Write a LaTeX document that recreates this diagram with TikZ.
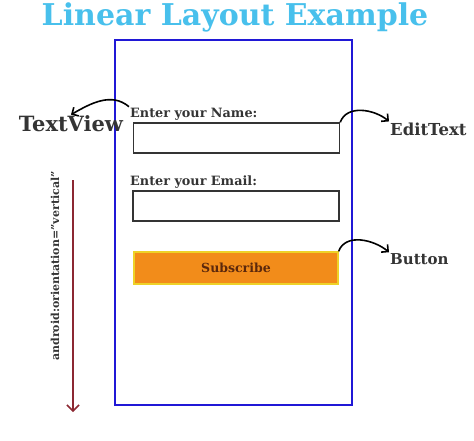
\documentclass[tikz,border=0pt]{standalone}
\usepackage{fontspec}
\setmainfont{DejaVu Serif}
\usetikzlibrary{arrows.meta}
\definecolor{titleblue}{RGB}{72,192,236}
\definecolor{framecol}{RGB}{32,24,214}
\definecolor{labelgray}{RGB}{52,52,52}
\definecolor{btnorange}{RGB}{242,140,26}
\definecolor{btnyellow}{RGB}{238,210,40}
\definecolor{btntext}{RGB}{92,40,12}
\definecolor{orientred}{RGB}{140,40,50}
\begin{document}
\begin{tikzpicture}[x=1pt,y=-1pt]
\tikzstyle{every node}=[font=\bfseries,text=labelgray,inner sep=1pt]
\tikzstyle{field}=[draw=labelgray,line width=1.5pt,fill=white,minimum width=206pt,minimum height=30pt]
\tikzstyle{callout}=[draw=black,line width=1.6pt,-{Straight Barb[length=5pt,width=10pt]}]
\useasboundingbox (0,0) rectangle (474,440);
\node[text=titleblue,font=\bfseries\fontsize{30}{34}\selectfont](title) at (235,17) {Linear Layout Example};
\draw[framecol,line width=2.2pt] (115,40) rectangle (352,405);
\node[anchor=west,font=\bfseries\fontsize{12.8}{15}\selectfont](name) at (129,114) {Enter your Name:};
\node[field](namebox) at (236.5,138) {};
\node[anchor=west,font=\bfseries\fontsize{12.8}{15}\selectfont](email) at (129,182) {Enter your Email:};
\node[field](emailbox) at (236,206) {};
\node[draw=btnyellow,line width=1.2pt,fill=btnorange,minimum width=204pt,minimum height=32pt,text=btntext,font=\bfseries\fontsize{12.5}{15}\selectfont](subscribe) at (236,268) {Subscribe};
\node[font=\bfseries\fontsize{21}{25}\selectfont](tv) at (71,124) {TextView};
\node[anchor=west,font=\bfseries\fontsize{16.5}{20}\selectfont](et) at (389,129) {EditText};
\node[anchor=west,font=\bfseries\fontsize{15}{18}\selectfont](btn) at (389,259) {Button};
\draw[callout] (name.north west) to[out=140,in=30] (tv.north);
\draw[callout] (namebox.north east) to[out=70,in=140] (et.north west);
\draw[callout] (subscribe.north east) to[out=70,in=140] (btn.north west);
% orientation arrow
\coordinate (otop) at (73,180);
\coordinate (obot) at (73,412);
\draw[orientred,line width=1.5pt,-{Straight Barb[length=6pt,width=12pt]}] (otop) -- (obot);
\node[rotate=90,font=\bfseries\fontsize{11}{13}\selectfont](orient) at (55,266) {android:orientation="vertical"};
\end{tikzpicture}
\end{document}
